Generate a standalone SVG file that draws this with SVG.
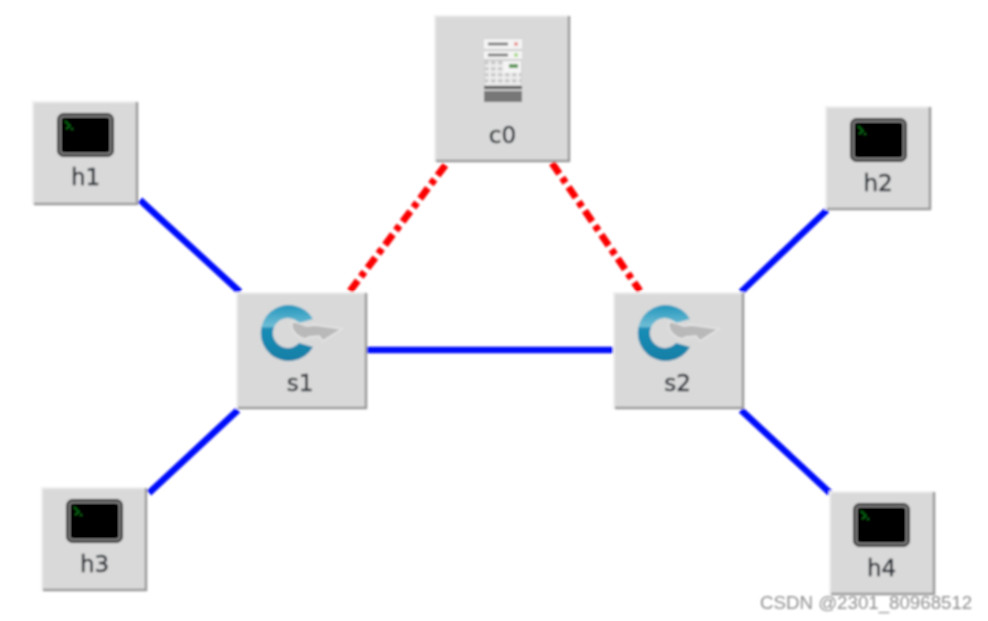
<svg xmlns="http://www.w3.org/2000/svg" xmlns:xlink="http://www.w3.org/1999/xlink" width="988" height="621" viewBox="0 0 988 621">
<style>
.box{fill:#d9d9d9}
.hi{fill:none;stroke:#eeeeee;stroke-width:2}
.lo{fill:none;stroke:#9a9a9a;stroke-width:2.500}
.lbl{font-family:"DejaVu Sans",sans-serif;font-size:23px;fill:#2c3138;stroke:#2c3138;stroke-width:.5;text-anchor:middle}
.blue{stroke:#0010fa;stroke-width:6.500;fill:none}
.red{stroke:#fa0505;stroke-width:7;fill:none;stroke-dasharray:13 5 6 5}
.wm{font-family:"Liberation Sans",sans-serif;font-size:18.700px;fill:#8f8f8f}
</style>
<defs>
<filter id="soft" x="-5%" y="-5%" width="110%" height="110%"><feGaussianBlur stdDeviation="0.8"/></filter>
<linearGradient id="ring" x1="0" y1="0" x2="0" y2="1">
<stop offset="0" stop-color="#2396bd"/><stop offset=".38" stop-color="#6fbdd5"/><stop offset=".42" stop-color="#1a8db6"/><stop offset="1" stop-color="#157fa6"/>
</linearGradient>
<pattern id="cells" width="7" height="6" patternUnits="userSpaceOnUse"><rect width="7" height="6" fill="#efefef"/><rect x="1" y="1" width="4.500" height="3.500" fill="#c9c9c9"/></pattern>
<g id="term">
<rect x="0" y="0" width="57" height="44" rx="7" fill="#2e2a2a"/>
<rect x="3.500" y="3.500" width="50" height="37" rx="3" fill="#000" stroke="#9b9b9b" stroke-width="1.500"/>
<path d="M8 8l5 5-4 3M14 16h2" fill="none" stroke="#0c7a1c" stroke-width="1.300"/>
</g>
<g id="sw">
<path d="M52 15A28 28 0 1 0 52 43L38 39A15 15 0 1 1 38 19Z" fill="url(#ring)"/>
<path d="M31 18C37 17 41 21 46 22L54 21L81 25L62 37L58 32L48 33L44 35C36 33 29 26 31 18Z" fill="#b9b9b9" stroke="#e6e6e6" stroke-width="1.500"/>
</g>
</defs>
<rect width="988" height="621" fill="#fff"/>
<g filter="url(#soft)">
<g id="connectors">
<path class="blue" d="M140 200L240 292"/>
<path class="blue" d="M238 410L149 493"/>
<path class="blue" d="M367 350H613"/>
<path class="blue" d="M741 292L827 210"/>
<path class="blue" d="M741 410L830 493"/>
<path class="red" d="M350 291L447 163"/>
<path class="red" d="M552 163L640 291"/>
</g>
<g id="c0">
<rect class="box" x="435" y="15" width="135" height="147"/>
<path class="hi" d="M435 162V16H570"/><path class="lo" d="M569 16V161H436"/>
<rect x="484" y="38" width="38" height="64" fill="#cfcfcf"/>
<rect x="484" y="39" width="38" height="10" fill="#f4f4f4"/>
<rect x="484" y="51" width="38" height="8" fill="#f4f4f4"/>
<path d="M488 44h20M488 55h20" stroke="#666" stroke-width="2.500"/>
<circle cx="516" cy="44" r="2" fill="#e89090"/><circle cx="516" cy="55" r="2" fill="#a0d880"/>
<rect x="485" y="61" width="36" height="24" fill="url(#cells)"/>
<rect x="503" y="61" width="18" height="12" fill="#f5f5f5"/>
<rect x="509" y="64" width="9" height="4" fill="#5f9a5a"/>
<rect x="484" y="86" width="38" height="3" fill="#555"/>
<rect x="484" y="91" width="38" height="11" fill="#777"/>
<text class="lbl" x="502.500" y="143">c0</text>
</g>
<g id="h1">
<rect class="box" x="33" y="101" width="105" height="104"/>
<path class="hi" d="M33 205V102H138"/><path class="lo" d="M137 102V204H34"/>
<use xlink:href="#term" x="57" y="113"/>
<text class="lbl" x="85.500" y="185">h1</text>
</g>
<g id="h2">
<rect class="box" x="826" y="106" width="105" height="104"/>
<path class="hi" d="M826 210V107H931"/><path class="lo" d="M930 107V209H827"/>
<use xlink:href="#term" x="850" y="118"/>
<text class="lbl" x="878" y="191">h2</text>
</g>
<g id="h3">
<rect class="box" x="42" y="487" width="105" height="104"/>
<path class="hi" d="M42 591V488H147"/><path class="lo" d="M146 488V590H43"/>
<use xlink:href="#term" x="66" y="499"/>
<text class="lbl" x="94.500" y="572">h3</text>
</g>
<g id="h4">
<rect class="box" x="830" y="491" width="105" height="104"/>
<path class="hi" d="M830 595V492H935"/><path class="lo" d="M934 492V594H831"/>
<use xlink:href="#term" x="853" y="503"/>
<text class="lbl" x="881.500" y="576">h4</text>
</g>
<g id="s1">
<rect class="box" x="237" y="292" width="130" height="117"/>
<path class="hi" d="M237 409V293H367"/><path class="lo" d="M366 293V408H238"/>
<use xlink:href="#sw" x="261" y="304"/>
<text class="lbl" x="300" y="391">s1</text>
</g>
<g id="s2">
<rect class="box" x="614" y="292" width="130" height="117"/>
<path class="hi" d="M614 409V293H744"/><path class="lo" d="M743 293V408H615"/>
<use xlink:href="#sw" x="638" y="304"/>
<text class="lbl" x="677.500" y="391">s2</text>
</g>
<text class="wm" x="760" y="609">CSDN @2301_80968512</text>
</g>
</svg>
